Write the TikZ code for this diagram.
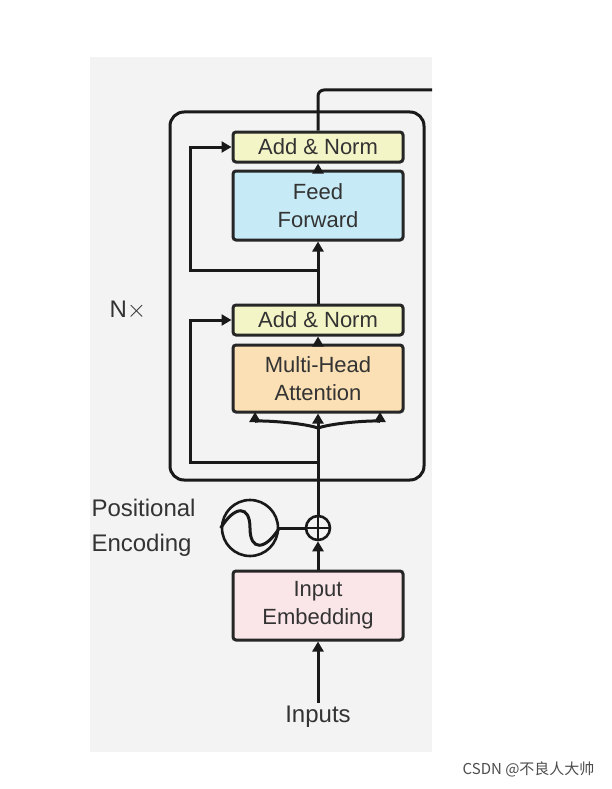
\documentclass[tikz,border=0pt]{standalone}
\usepackage{fontspec}
\setmainfont{Liberation Sans}
\newfontfamily\cjk{Noto Sans CJK SC}
\usetikzlibrary{arrows.meta}
\definecolor{bg}{HTML}{F3F3F3}
\definecolor{an}{HTML}{F4F5C6}
\definecolor{ff}{HTML}{C6EAF6}
\definecolor{mha}{HTML}{FAE0B4}
\definecolor{emb}{HTML}{FAE6E8}
\begin{document}
\begin{tikzpicture}[x=1pt,y=-1pt,
  box/.style={draw=black!85,line width=3pt,rounded corners=3pt,minimum width=170pt,inner sep=0pt,align=center,font=\fontsize{22}{28}\selectfont,text=black!80},
  ln/.style={line width=3pt,black!90},
  arr/.style={ln,-{Triangle[length=10pt,width=11pt]}},
  lbl/.style={font=\fontsize{24}{35}\selectfont,text=black!80,align=left}]
\useasboundingbox (0,0) rectangle (612,789);
\fill[bg] (90,57) rectangle (432,752);
\node[draw=black!90,line width=3pt,rounded corners=14pt,minimum width=254pt,minimum height=368pt] (enc) at (297,296) {};
\node[box,fill=an,minimum height=30pt] (an2) at (318,147) {Add \& Norm};
\node[box,fill=ff,minimum height=69pt] (ff) at (318,205.5) {Feed\\Forward};
\node[box,fill=an,minimum height=30pt] (an1) at (318,320) {Add \& Norm};
\node[box,fill=mha,minimum height=67pt] (mha) at (318,378.5) {Multi-Head\\Attention};
\node[box,fill=emb,minimum height=69pt] (emb) at (318,605.5) {Input\\Embedding};
\node[circle,draw=black!90,line width=2.6pt,minimum size=24pt,inner sep=0pt] (plus) at (318,528) {};
\draw[ln,line width=2.6pt] (plus.north)--(plus.south) (plus.west)--(plus.east);
\node[circle,draw=black!90,line width=2.6pt,minimum size=56pt,inner sep=0pt] (pe) at (250,528) {};
\draw[ln] (pe.west) .. controls (235,505) and (250,505) .. (pe.center) .. controls (250,551) and (265,551) .. (pe.east);
\draw[ln] (pe.east)--(plus.west);
\node[lbl,anchor=west] (pet) at (88,528) {Positional\\Encoding};
\node[lbl] (nx) at (128,310) {N$\times$};
\node[lbl] (inp) at (318,717) {Inputs};
\node[font=\cjk\fontsize{15}{18}\selectfont,text=black!70,anchor=east] (wm) at (598,769) {CSDN @不良人大帅};
\coordinate (out) at (432,90);
\draw[arr] (inp.north)--(emb.south);
\draw[arr] (emb.north)--(plus.south);
\draw[arr] (plus.north)--(mha.south);
\draw[arr] (318,462)--(190,462)--(190,320)--(an1.west);
\draw[arr] (318,428) .. controls (300,422) and (255,420) .. (255,412);
\draw[arr] (318,428) .. controls (336,422) and (380,420) .. (380,412);
\draw[arr] (mha.north)--(an1.south);
\draw[arr] (an1.north)--(ff.south);
\draw[arr] (318,270)--(190,270)--(190,147)--(an2.west);
\draw[arr] (ff.north)--(an2.south);
\draw[ln,rounded corners=6pt] (an2.north)--(318,90)--(out);
\end{tikzpicture}
\end{document}
